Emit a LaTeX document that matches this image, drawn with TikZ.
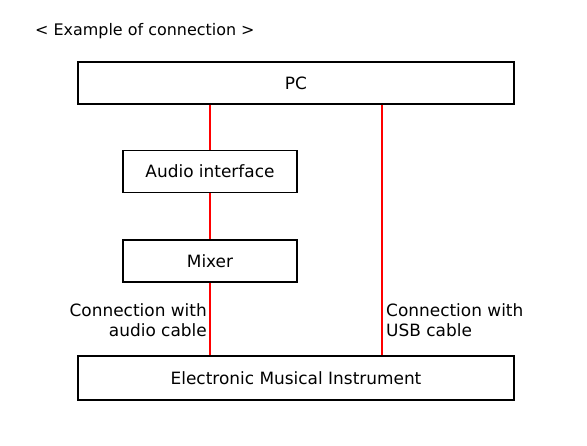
\documentclass[tikz,border=0pt]{standalone}
\usepackage{fontspec}
\setmainfont{DejaVu Sans}
\usepackage{tikz}
\definecolor{cable}{HTML}{FF0000}
\tikzset{
  unit/.style={draw, line width=1.5pt, minimum height=42pt, inner sep=0pt},
  wire/.style={draw=cable, line width=1.5pt},
  lbl/.style={inner sep=0pt, font=\fontsize{17}{21}\selectfont}
}

\begin{document}
\begin{tikzpicture}[x=1bp, y=-1bp, every node/.style={font=\fontsize{17}{21}\selectfont}]
  \useasboundingbox (0,0) rectangle (587,446);
  % Title
  \node[lbl, anchor=west, font=\fontsize{16}{20}\selectfont] (title) at (35,31) {< Example of connection >};
  % Devices
  \node[unit, minimum width=436bp] (pc) at (296,83) {PC};
  \node[unit, minimum width=174bp] (audio) at (210,171.5) {Audio interface};
  \node[unit, minimum width=174bp] (mixer) at (210,261) {Mixer};
  \node[unit, minimum width=436bp, minimum height=44bp] (emi) at (296,378) {Electronic Musical Instrument};
  % Cables
  \coordinate (alin) at (210,0);
  \coordinate (usb) at (382,0);
  \draw[wire] (pc.south -| alin) -- (audio.north -| alin);
  \draw[wire] (audio.south -| alin) -- (mixer.north -| alin);
  \draw[wire] (mixer.south -| alin) -- (emi.north -| alin);
  \draw[wire] (pc.south -| usb) -- (emi.north -| usb);
  % Cable labels
  \node[lbl, align=right, anchor=north east] (alab) at (207,303) {Connection with\\audio cable};
  \node[lbl, align=left, anchor=north west] (ulab) at (386,303) {Connection with\\USB cable};
\end{tikzpicture}
\end{document}
